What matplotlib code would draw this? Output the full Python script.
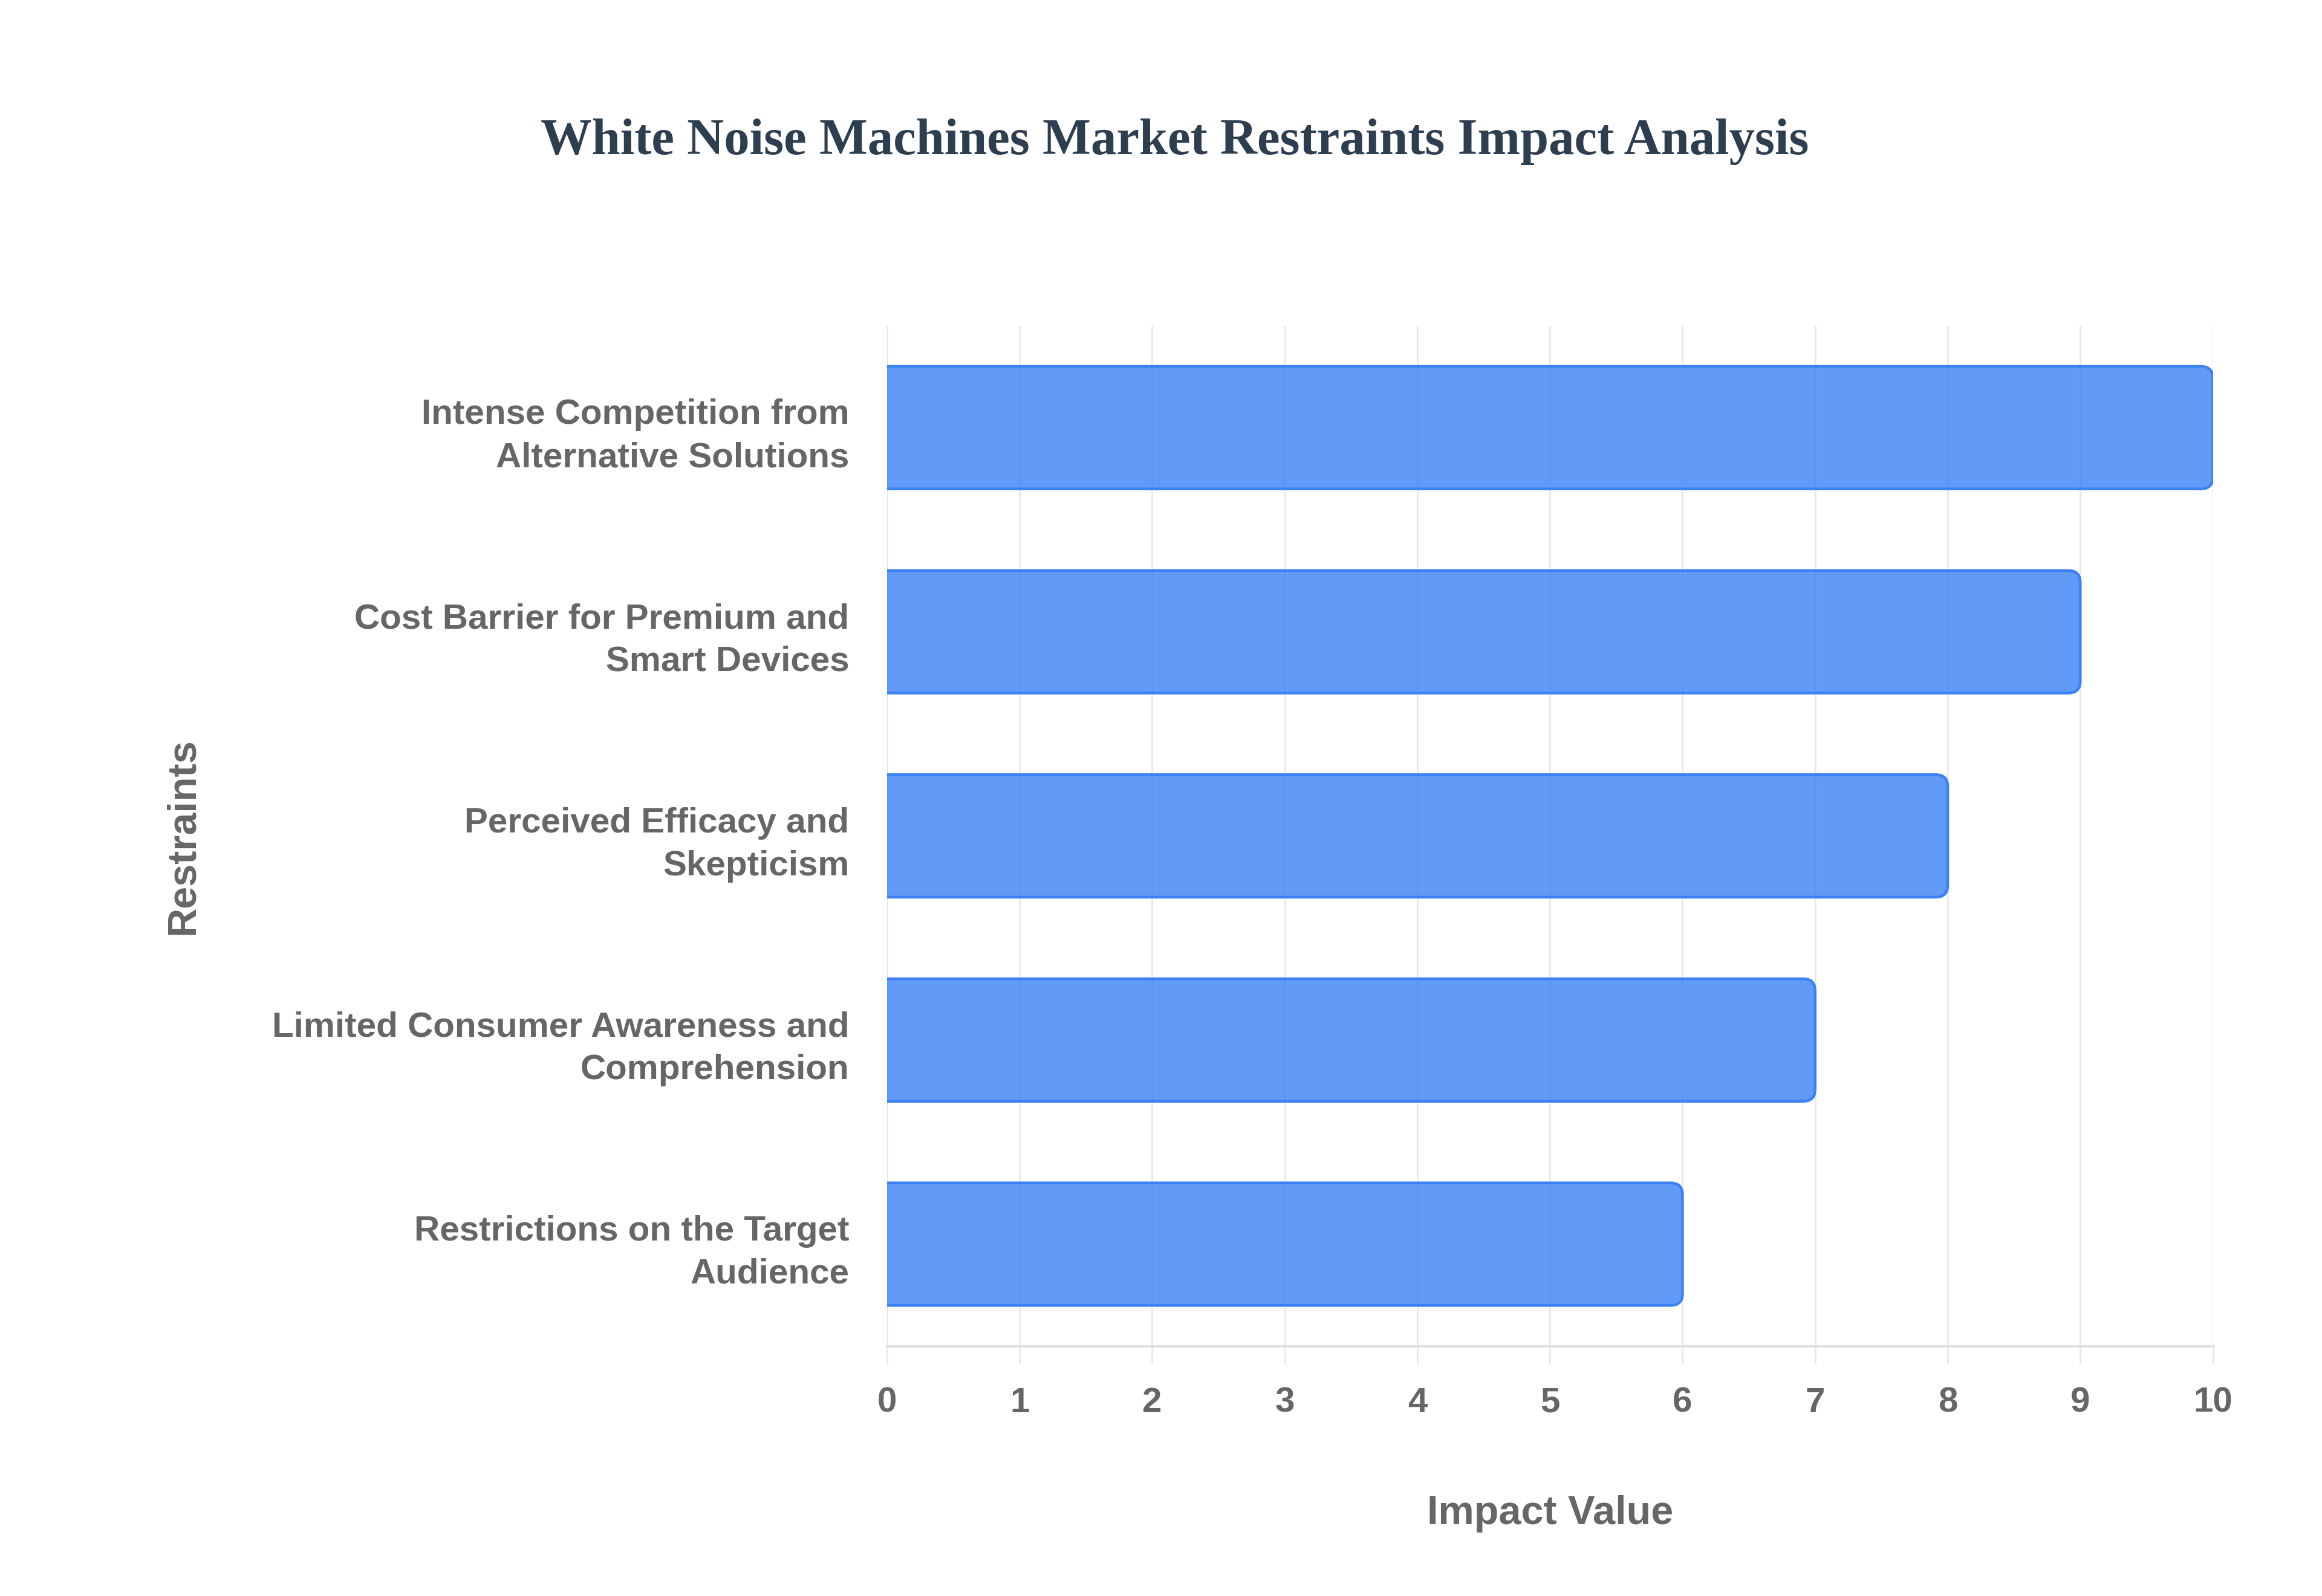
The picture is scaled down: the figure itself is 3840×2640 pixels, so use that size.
"""Horizontal bar chart of white noise machine market restraints."""

import matplotlib
matplotlib.use("Agg")
import matplotlib.pyplot as plt
from matplotlib.patches import FancyBboxPatch

# data, top to bottom as shown
restraints = [
    "Intense Competition from\nAlternative Solutions",
    "Cost Barrier for Premium and\nSmart Devices",
    "Perceived Efficacy and\nSkepticism",
    "Limited Consumer Awareness and\nComprehension",
    "Restrictions on the Target\nAudience",
]
impact = [10, 9, 8, 7, 6]
x_ticks = list(range(0, 11))

FILL = (59 / 255, 130 / 255, 246 / 255, 0.8)
EDGE = "#3B82F6"
GREY_TEXT = "#666666"
GRID = "#e6e6e6"
SANS = ["Liberation Sans", "DejaVu Sans"]

fig = plt.figure(figsize=(12.8, 8.8), dpi=300)
ax = fig.add_axes([0.382, 0.1565, 0.571, 0.6395])

bar_h = 0.6
radius = 0.09
# y unit is taller than x unit on screen; squash the rounding to stay circular
aspect = (0.571 * 12.8 / 10) / (0.6395 * 8.8 / 5)

for i, v in enumerate(impact):
    box = FancyBboxPatch(
        (-1, i - bar_h / 2), v + 1, bar_h,
        boxstyle=f"round,pad=0,rounding_size={radius}",
        mutation_aspect=aspect,
        facecolor=FILL, edgecolor=EDGE, linewidth=1.1,
        clip_on=True, zorder=3,
    )
    ax.add_patch(box)

ax.set_xlim(0, 10)
ax.set_ylim(len(impact) - 0.5, -0.5)

ax.set_yticks(range(len(restraints)))
ax.set_yticklabels(restraints, fontfamily=SANS, fontweight="bold",
                   fontsize=14, color=GREY_TEXT, linespacing=1.4)
ax.tick_params(axis="y", length=0, pad=15)

ax.set_xticks(x_ticks)
ax.set_xticklabels([str(t) for t in x_ticks], fontfamily=SANS,
                   fontweight="bold", fontsize=14, color=GREY_TEXT)
ax.tick_params(axis="x", length=7, width=0.6, color=GRID, pad=9)

ax.grid(axis="x", color=GRID, linewidth=0.6, zorder=0)
ax.set_axisbelow(True)
for side in ("top", "right", "left"):
    ax.spines[side].set_visible(False)
ax.spines["bottom"].set_color("#e0e0e0")
ax.spines["bottom"].set_linewidth(1.0)

ax.set_xlabel("Impact Value", fontfamily=SANS, fontweight="bold",
              fontsize=16, color=GREY_TEXT, labelpad=30)
fig.text(0.079, 0.476, "Restraints", rotation=90, ha="center", va="center",
         fontfamily=SANS, fontweight="bold", fontsize=16, color=GREY_TEXT)

fig.text(0.506, 0.911, "White Noise Machines Market Restraints Impact Analysis",
         ha="center", va="center", fontfamily=["Liberation Serif", "DejaVu Serif"],
         fontweight="bold", fontsize=20.3, color="#2C3E50")

fig.savefig("out.png", dpi=300, facecolor="white")
